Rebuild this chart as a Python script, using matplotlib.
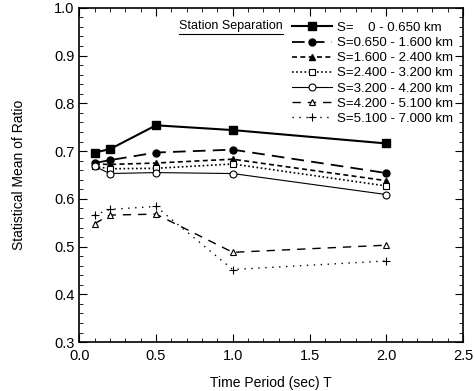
import numpy as np
import matplotlib.pyplot as plt
from matplotlib.ticker import MultipleLocator

plt.rcParams['font.family'] = ['Liberation Sans', 'DejaVu Sans']

# time periods (sec)
periods = [0.1, 0.2, 0.5, 1.0, 2.0]

# statistical mean of ratio per station separation class
s1 = [0.697, 0.704, 0.754, 0.744, 0.716]
s2 = [0.675, 0.681, 0.697, 0.703, 0.654]
s3 = [0.673, 0.672, 0.675, 0.683, 0.638]
s4 = [0.668, 0.663, 0.664, 0.673, 0.627]
s5 = [0.668, 0.653, 0.655, 0.653, 0.609]
s6 = [0.548, 0.566, 0.568, 0.488, 0.503]
s7 = [0.566, 0.578, 0.584, 0.452, 0.470]

labels = ["S=    0 - 0.650 km",
          "S=0.650 - 1.600 km",
          "S=1.600 - 2.400 km",
          "S=2.400 - 3.200 km",
          "S=3.200 - 4.200 km",
          "S=4.200 - 5.100 km",
          "S=5.100 - 7.000 km"]

fig = plt.figure(figsize=(4.74, 3.91), dpi=100)
ax = fig.add_axes([0.167, 0.125, 0.810, 0.855])

ax.plot(periods, s1, color='k', lw=1.5, marker='s', ms=6, label=labels[0])
ax.plot(periods, s2, color='k', lw=1.3, ls=(0, (7, 4)), marker='o', ms=5, label=labels[1])
ax.plot(periods, s3, color='k', lw=1.2, ls=(0, (3, 2)), marker='^', ms=5, label=labels[2])
ax.plot(periods, s4, color='k', lw=1.2, ls=(0, (1, 1.5)), marker='s', ms=5, mfc='white',
        mew=0.8, label=labels[3])
ax.plot(periods, s5, color='k', lw=0.8, marker='o', ms=5, mfc='white', mew=0.8, label=labels[4])
ax.plot(periods, s6, color='k', lw=1.0, ls=(0, (6, 5)), marker='^', ms=5, mfc='white',
        mew=0.8, label=labels[5])
ax.plot(periods, s7, color='k', lw=1.0, ls=(0, (1, 4)), marker='+', ms=6, mew=0.8,
        label=labels[6])

ax.set_xlim(0, 2.5)
ax.set_ylim(0.3, 1.0)
ax.xaxis.set_major_locator(MultipleLocator(0.5))
ax.xaxis.set_minor_locator(MultipleLocator(0.1))
ax.yaxis.set_major_locator(MultipleLocator(0.1))
ax.yaxis.set_minor_locator(MultipleLocator(0.02))
ax.tick_params(which='both', direction='in', top=True, right=True, labelsize=10.5)
ax.tick_params(which='major', length=6)
ax.tick_params(which='minor', length=3)
ax.tick_params(axis='x', pad=5)
ax.xaxis.set_major_formatter(plt.FormatStrFormatter('%.1f'))
ax.yaxis.set_major_formatter(plt.FormatStrFormatter('%.1f'))
for sp in ax.spines.values():
    sp.set_linewidth(1.2)

ax.set_xlabel("Time Period (sec) T", fontsize=10, labelpad=9)
ax.set_ylabel("Statistical Mean of Ratio", fontsize=10, labelpad=20)

leg = ax.legend(loc='upper right', bbox_to_anchor=(0.995, 0.982), frameon=False,
                fontsize=9.5, handlelength=3.0, handletextpad=0.4, labelspacing=0.22,
                borderaxespad=0.2)

ax.text(0.26, 0.945, "Station Separation", transform=ax.transAxes,
        fontsize=9, ha='left', va='center')
ax.plot([0.26, 0.53], [0.922, 0.922], transform=ax.transAxes, color='k', lw=0.8)

fig.savefig("out.png", dpi=100)
